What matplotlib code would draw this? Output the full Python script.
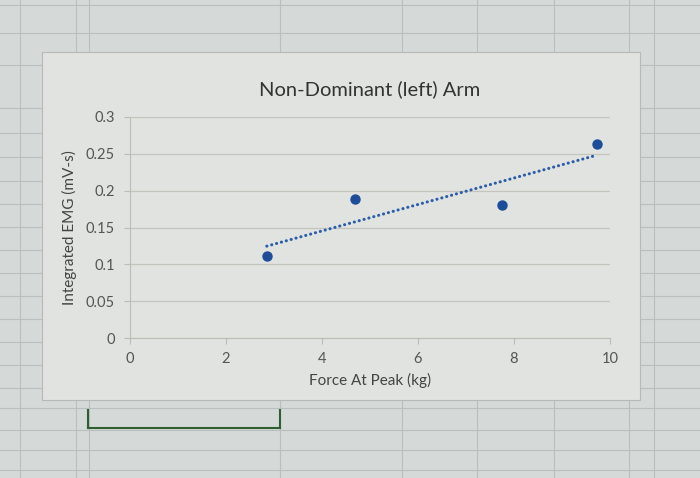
import matplotlib.pyplot as plt
from matplotlib.lines import Line2D
from matplotlib.patches import Rectangle
import numpy as np

plt.rcParams['font.family'] = ['Lato', 'DejaVu Sans']

# data
force_kg = [2.85, 4.68, 7.74, 9.73]
emg_mvs = [0.111, 0.189, 0.180, 0.263]
x_ticks = [0, 2, 4, 6, 8, 10]
y_ticks = [0, 0.05, 0.1, 0.15, 0.2, 0.25, 0.3]
y_tick_labels = ["0", "0.05", "0.1", "0.15", "0.2", "0.25", "0.3"]

W, H = 700, 478
fig = plt.figure(figsize=(7, 4.78), dpi=100)
fig.patch.set_facecolor("#d5dad9")


def px_line(x0, y0, x1, y1, **kw):
    fig.add_artist(Line2D([x0 / W, x1 / W], [1 - y0 / H, 1 - y1 / H],
                          transform=fig.transFigure, **kw))


# spreadsheet cells behind the chart
for y in [5, 33, 65, 108, 133, 157, 181, 204, 227, 250, 273, 296, 319, 342, 365, 388, 408, 430, 450, 470]:
    px_line(0, y, W, y, color="#b9bebe", lw=0.8, zorder=0)
for x in [20, 76, 89, 280, 402, 477, 554, 629, 654]:
    px_line(x, 0, x, H, color="#b9bebe", lw=0.8, zorder=0)

# chart area
fig.add_artist(Rectangle((42 / W, 1 - 400 / H), (640 - 42) / W, (400 - 52) / H,
                         transform=fig.transFigure, facecolor="#e0e3e0",
                         edgecolor="#b5b9b8", lw=0.8, zorder=1))

# selected-cell bracket under the chart
px_line(88, 410, 88, 428, color="#2f5f2f", lw=1.5, zorder=2)
px_line(88, 428, 280, 428, color="#2f5f2f", lw=1.5, zorder=2)
px_line(280, 410, 280, 428, color="#2f5f2f", lw=1.5, zorder=2)

ax = fig.add_axes([130 / W, 1 - 338 / H, (610 - 130) / W, (338 - 117) / H], zorder=3)
ax.set_facecolor("none")

ax.scatter(force_kg, emg_mvs, s=42, color="#1d4c99", zorder=4)

# linear trendline
slope, icpt = np.polyfit(force_kg, emg_mvs, 1)
xs = np.array([min(force_kg), max(force_kg)])
ax.plot(xs, slope * xs + icpt, color="#2b5ca8", lw=2.2,
        linestyle=(0, (0.05, 1.6)), dash_capstyle="round", zorder=3)

ax.set_xlim(0, 10)
ax.set_ylim(0, 0.3)
ax.set_xticks(x_ticks)
ax.set_yticks(y_ticks)
ax.set_yticklabels(y_tick_labels)
ax.grid(axis="y", color="#c4c4bd", lw=0.9)
ax.set_axisbelow(True)
for s in ["top", "right"]:
    ax.spines[s].set_visible(False)
for s in ["left", "bottom"]:
    ax.spines[s].set_color("#bdbdb6")
ax.tick_params(colors="#bdbdb6", labelcolor="#555555", labelsize=10.5, length=4)
ax.tick_params(axis="x", pad=6)
ax.tick_params(axis="y", pad=7)

ax.set_xlabel("Force At Peak (kg)", fontsize=11, color="#444444", labelpad=5)
ax.set_ylabel("Integrated EMG (mV-s)", fontsize=11, color="#444444", labelpad=6)
ax.set_title("Non-Dominant (left) Arm", fontsize=14.5, color="#333333", pad=16)

fig.savefig("out.png", dpi=100, facecolor=fig.get_facecolor())
